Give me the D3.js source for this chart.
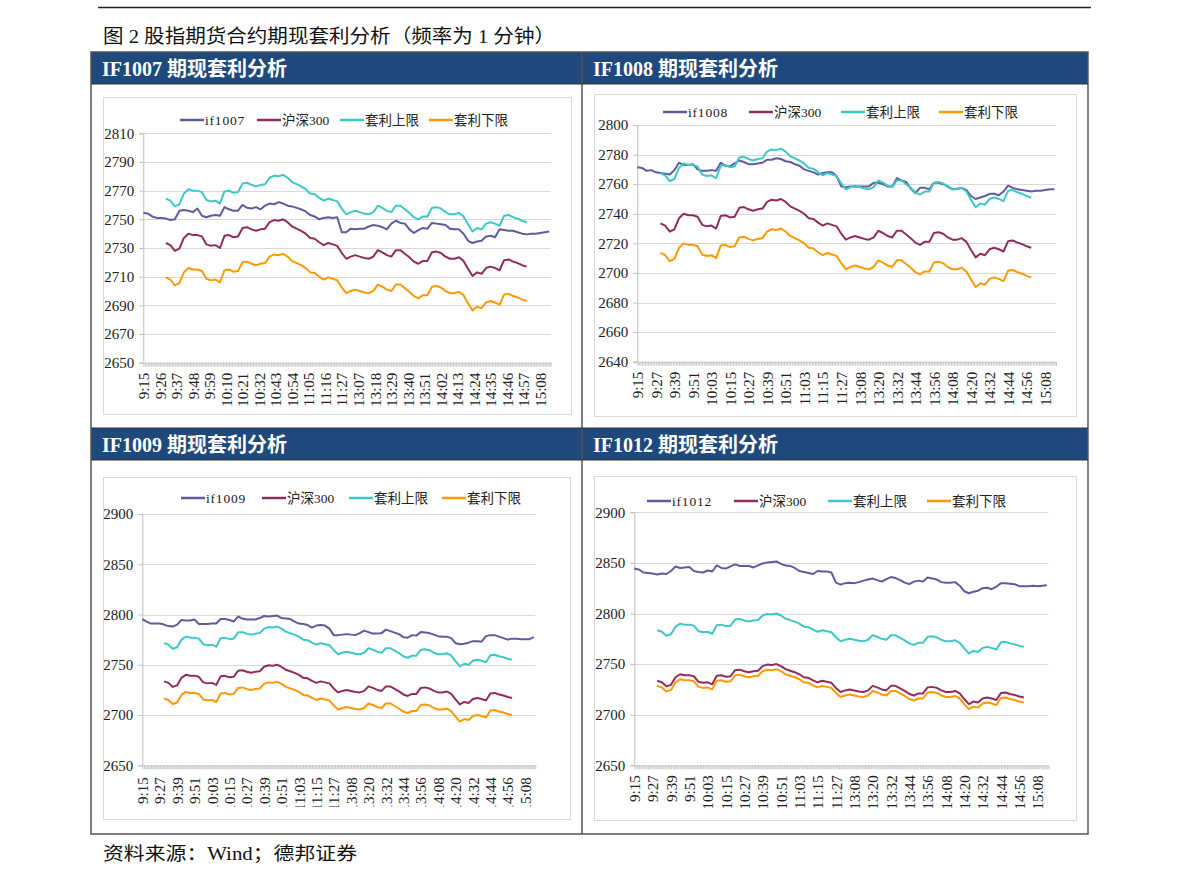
<!DOCTYPE html>
<html>
<head>
<meta charset="utf-8">
<script src="https://cdn.jsdelivr.net/npm/d3@7"></script>
<style>
  body { margin: 0; background: #fff; }
  text { font-family: "Liberation Serif", "Noto Sans CJK SC", serif; }
</style>
</head>
<body>
<svg id="chart" width="1191" height="884"></svg>
<script>
// minute categories: 9:15-11:30 and 13:00-15:15
function buildTimes() {
    let out = [];
    let add = function(h0, m0, h1, m1) {
        for (let t = h0 * 60 + m0; t <= h1 * 60 + m1; t++) {
            let m = t % 60;
            out.push(Math.floor(t / 60) + ":" + (m < 10 ? "0" + m : m));
        }
    };
    add(9, 15, 11, 30);
    add(13, 0, 15, 15);
    return out;
}
const times = buildTimes();

const ticks11 = ["9:15","9:26","9:37","9:48","9:59","10:10","10:21","10:32","10:43","10:54","11:05","11:16","11:27",
    "13:07","13:18","13:29","13:40","13:51","14:02","14:13","14:24","14:35","14:46","14:57","15:08"];
const ticks12 = ["9:15","9:27","9:39","9:51","10:03","10:15","10:27","10:39","10:51","11:03","11:15","11:27",
    "13:08","13:20","13:32","13:44","13:56","14:08","14:20","14:32","14:44","14:56","15:08"];

const legendNames = ["沪深300", "套利上限", "套利下限"];

// read every 3 minutes; futures from 9:15, spot and bounds from 9:30
const step = 3;
const futStart = 0;
const spotStart = 15;

const hs300 = [2733.5,2732,2728,2729.5,2737,2740,2739,2739,2738,2732.5,
    2731.5,2732,2730,2738.5,2739,2737.5,2738,2744,2744.5,2743,
    2742,2743,2743.5,2748,2749.5,2749,2750,2748,2745,2743.5,
    2742,2740,2737,2736.5,2734,2732,2733.5,2732.5,2731.5,2726.5,
    2722.5,2724,2725,2724,2723,2722.5,2724,2728.5,2727,2725,
    2724,2728.5,2728.5,2726,2723.5,2720.5,2719,2721,2721,2727,
    2727.5,2726.5,2724,2722.5,2722.5,2723.5,2721,2715.5,2710.5,2713,
    2712,2716,2717,2716,2714.5,2721.5,2722,2720.5,2719.5,2718,
    2717];

const if1007 = [2754.5,2754,2752,2751,2751,2750.5,2749.5,2750,2756,2756.5,
    2756,2755,2757.5,2752.5,2751.5,2752.5,2753,2752.5,2758.5,2757,
    2756,2756,2760,2758,2757.5,2758.5,2757,2759.5,2761,2760.5,
    2762,2761,2759.5,2759,2758,2757,2755.5,2753,2752,2750,
    2751,2751.5,2751,2751.5,2741,2741,2743.5,2743,2743.5,2743.5,
    2745,2746,2745.5,2744.5,2743,2747,2749,2747.5,2747,2743,
    2740.5,2742.5,2744,2743.5,2747.5,2747,2746.5,2746,2743.5,2743,
    2743,2740,2735,2733.5,2734.5,2735,2738,2738.5,2737.5,2743,
    2742.5,2742,2742,2741,2740,2739.5,2740,2740,2740.5,2741,
    2741.5];
const up1007 = [2764.5,2763,2759,2760.5,2768,2771,2770,2770,2769,2763.5,
    2762.5,2763,2761,2769.5,2770,2768.5,2769,2775,2775.5,2774,
    2773,2774,2774.5,2779,2780.5,2780,2781,2779,2776,2774.5,
    2773,2771,2768,2767.5,2765,2763,2764.5,2763.5,2762.5,2757.5,
    2753.5,2755,2756,2755,2754,2753.5,2755,2759.5,2758,2756,
    2755,2759.5,2759.5,2757,2754.5,2751.5,2750,2752,2752,2758,
    2758.5,2757.5,2755,2753.5,2753.5,2754.5,2752,2746.5,2741.5,2744,
    2743,2747,2748,2747,2745.5,2752.5,2753,2751.5,2750.5,2749,
    2748];
const low1007 = [2709.5,2708,2704,2705.5,2713,2716,2715,2715,2714,2708.5,
    2707.5,2708,2706,2714.5,2715,2713.5,2714,2720,2720.5,2719,
    2718,2719,2719.5,2724,2725.5,2725,2726,2724,2721,2719.5,
    2718,2716,2713,2712.5,2710,2708,2709.5,2708.5,2707.5,2702.5,
    2698.5,2700,2701,2700,2699,2698.5,2700,2704.5,2703,2701,
    2700,2704.5,2704.5,2702,2699.5,2696.5,2695,2697,2697,2703,
    2703.5,2702.5,2700,2698.5,2698.5,2699.5,2697,2691.5,2686.5,2689,
    2688,2692,2693,2692,2690.5,2697.5,2698,2696.5,2695.5,2694,
    2693];

const if1008 = [2771.5,2771,2769,2769.5,2768,2767.5,2767,2766.5,2769.5,2774.5,
    2773,2773,2773.5,2770,2769,2769,2769.5,2769,2774.5,2772.5,
    2772,2774,2776,2775,2773.5,2773.5,2774,2774.5,2776.5,2776.5,
    2777.5,2777,2775.5,2775,2773.5,2772.5,2770,2769,2768,2766.5,
    2767.5,2768,2768,2765.5,2758.5,2758,2758.5,2758.5,2758.5,2758.5,
    2758.5,2761,2761,2760,2758.5,2758.5,2764,2762.5,2761.5,2757,
    2754,2757.5,2757.5,2756.5,2761,2761,2760,2758.5,2756.5,2757,
    2757.5,2756,2752,2750,2751,2752,2753.5,2753.5,2752.5,2755,
    2759,2757.5,2756.5,2756,2755.5,2755,2755.5,2755.5,2756,2756.5,
    2756.5];
const up1008 = [2767.5,2766,2762,2763.5,2771,2774,2773,2773,2772,2766.5,
    2765.5,2766,2764,2772.5,2773,2771.5,2772,2778,2778.5,2777,
    2776,2777,2777.5,2782,2783.5,2783,2784,2782,2779,2777.5,
    2776,2774,2771,2770.5,2768,2766,2767.5,2766.5,2765.5,2760.5,
    2756.5,2758,2759,2758,2757,2756.5,2758,2762.5,2761,2759,
    2758,2762.5,2762.5,2760,2757.5,2754.5,2753,2755,2755,2761,
    2761.5,2760.5,2758,2756.5,2756.5,2757.5,2755,2749.5,2744.5,2747,
    2746,2750,2751,2750,2748.5,2755.5,2756,2754.5,2753.5,2752,
    2751];
const low1008 = [2713.5,2712,2708,2709.5,2717,2720,2719,2719,2718,2712.5,
    2711.5,2712,2710,2718.5,2719,2717.5,2718,2724,2724.5,2723,
    2722,2723,2723.5,2728,2729.5,2729,2730,2728,2725,2723.5,
    2722,2720,2717,2716.5,2714,2712,2713.5,2712.5,2711.5,2706.5,
    2702.5,2704,2705,2704,2703,2702.5,2704,2708.5,2707,2705,
    2704,2708.5,2708.5,2706,2703.5,2700.5,2699,2701,2701,2707,
    2707.5,2706.5,2704,2702.5,2702.5,2703.5,2701,2695.5,2690.5,2693,
    2692,2696,2697,2696,2694.5,2701.5,2702,2700.5,2699.5,2698,
    2697];

const if1009 = [2795.5,2793,2791,2791,2791,2790,2788.5,2788,2790,2794.5,
    2794,2794,2795,2790.5,2790.5,2790.5,2791,2791,2795.5,2795.5,
    2794.5,2793,2798,2796,2795,2795,2795,2796.5,2798.5,2798,
    2798.5,2799,2796.5,2796,2795.5,2793,2791,2790.5,2789.5,2787,
    2789,2789.5,2789,2786,2779.5,2779.5,2780,2780.5,2780,2779.5,
    2781.5,2784,2782.5,2781,2781,2781.5,2785,2783.5,2782,2780.5,
    2777.5,2777,2779.5,2779,2782.5,2782,2781.5,2780,2778.5,2778,
    2778,2776.5,2771.5,2770.5,2771,2772,2773.5,2773.5,2773,2778.5,
    2779.5,2779.5,2778,2776.5,2775,2776,2776,2775.5,2775.5,2775.5,
    2777.5];
const up1009 = [2771.5,2770,2766,2767.5,2775,2778,2777,2777,2776,2770.5,
    2769.5,2770,2768,2776.5,2777,2775.5,2776,2782,2782.5,2781,
    2780,2781,2781.5,2786,2787.5,2787,2788,2786,2783,2781.5,
    2780,2778,2775,2774.5,2772,2770,2771.5,2770.5,2769.5,2764.5,
    2760.5,2762,2763,2762,2761,2760.5,2762,2766.5,2765,2763,
    2762,2766.5,2766.5,2764,2761.5,2758.5,2757,2759,2759,2765,
    2765.5,2764.5,2762,2760.5,2760.5,2761.5,2759,2753.5,2748.5,2751,
    2750,2754,2755,2754,2752.5,2759.5,2760,2758.5,2757.5,2756,
    2755];
const low1009 = [2716.5,2715,2711,2712.5,2720,2723,2722,2722,2721,2715.5,
    2714.5,2715,2713,2721.5,2722,2720.5,2721,2727,2727.5,2726,
    2725,2726,2726.5,2731,2732.5,2732,2733,2731,2728,2726.5,
    2725,2723,2720,2719.5,2717,2715,2716.5,2715.5,2714.5,2709.5,
    2705.5,2707,2708,2707,2706,2705.5,2707,2711.5,2710,2708,
    2707,2711.5,2711.5,2709,2706.5,2703.5,2702,2704,2704,2710,
    2710.5,2709.5,2707,2705.5,2705.5,2706.5,2704,2698.5,2693.5,2696,
    2695,2699,2700,2699,2697.5,2704.5,2705,2703.5,2702.5,2701,
    2700];

const if1012 = [2844.5,2843.5,2840.5,2840,2839.5,2838.5,2839.5,2839,2842,2846.5,
    2845,2845.5,2846,2842,2841,2840.5,2842.5,2841.5,2847.5,2845,
    2844.5,2846.5,2848.5,2847,2847,2847,2845.5,2847.5,2849.5,2850.5,
    2851,2851.5,2849,2847.5,2847,2845,2842,2841,2840,2839,
    2842,2841.5,2841.5,2840.5,2830.5,2828.5,2830,2830.5,2830,2831,
    2832.5,2833.5,2834.5,2833,2831.5,2834,2836,2835,2833,2830.5,
    2829,2831.5,2832.5,2831.5,2835.5,2834.5,2833.5,2831,2830.5,2830.5,
    2831,2827.5,2822,2820,2821.5,2822.5,2825,2825.5,2824,2826.5,
    2830,2830,2829.5,2829,2827,2827,2827,2827.5,2827,2827.5,
    2828];
const up1012 = [2783.5,2782,2778,2779.5,2787,2790,2789,2789,2788,2782.5,
    2781.5,2782,2780,2788.5,2789,2787.5,2788,2794,2794.5,2793,
    2792,2793,2793.5,2798,2799.5,2799,2800,2798,2795,2793.5,
    2792,2790,2787,2786.5,2784,2782,2783.5,2782.5,2781.5,2776.5,
    2772.5,2774,2775,2774,2773,2772.5,2774,2778.5,2777,2775,
    2774,2778.5,2778.5,2776,2773.5,2770.5,2769,2771,2771,2777,
    2777.5,2776.5,2774,2772.5,2772.5,2773.5,2771,2765.5,2760.5,2763,
    2762,2766,2767,2766,2764.5,2771.5,2772,2770.5,2769.5,2768,
    2767];
const low1012 = [2728.5,2727,2723,2724.5,2732,2735,2734,2734,2733,2727.5,
    2726.5,2727,2725,2733.5,2734,2732.5,2733,2739,2739.5,2738,
    2737,2738,2738.5,2743,2744.5,2744,2745,2743,2740,2738.5,
    2737,2735,2732,2731.5,2729,2727,2728.5,2727.5,2726.5,2721.5,
    2717.5,2719,2720,2719,2718,2717.5,2719,2723.5,2722,2720,
    2719,2723.5,2723.5,2721,2718.5,2715.5,2714,2716,2716,2722,
    2722.5,2721.5,2719,2717.5,2717.5,2718.5,2716,2710.5,2705.5,2708,
    2707,2711,2712,2711,2709.5,2716.5,2717,2715.5,2714.5,2713,
    2712];

const colors = ["#5f5b9e", "#932c5e", "#3cc8c8", "#ff9900"];

let svg = d3.select("#chart");

// page frame
svg.append("line").attr("x1", 98).attr("x2", 1091).attr("y1", 7.5).attr("y2", 7.5)
    .attr("stroke", "#222").attr("stroke-width", 1.5);
svg.append("text").attr("x", 103).attr("y", 43).attr("font-size", 19).attr("fill", "#111")
    .attr("textLength", 452).attr("lengthAdjust", "spacingAndGlyphs")
    .text("图 2 股指期货合约期现套利分析（频率为 1 分钟）");
svg.append("text").attr("x", 103).attr("y", 860).attr("font-size", 18).attr("fill", "#111")
    .attr("textLength", 254).attr("lengthAdjust", "spacingAndGlyphs")
    .text("资料来源：Wind；德邦证券");

function toPoints(vals, start) {
    return vals.map((v, i) => ({ t: times[start + i * step], v: v }));
}

function drawPanel(cfg) {
    let g = svg.append("g");
    // header bar
    g.append("rect").attr("x", cfg.cell[0]).attr("y", cfg.headY)
        .attr("width", cfg.cell[1] - cfg.cell[0]).attr("height", 32).attr("fill", "#1f497d");
    g.append("text").attr("x", cfg.cell[0] + 11).attr("y", cfg.headY + 24)
        .attr("font-size", 20).attr("font-weight", "bold").attr("fill", "#fff")
        .text(cfg.title);

    // chart area box
    g.append("rect").attr("x", cfg.box[0] + 0.5).attr("y", cfg.box[1] + 0.5)
        .attr("width", cfg.box[2]).attr("height", cfg.box[3])
        .attr("fill", "#fff").attr("stroke", "#d9d9d9");

    let x = d3.scalePoint().domain(times).range([cfg.plot.l, cfg.plot.r]);
    let y = d3.scaleLinear().domain(cfg.yDomain).range([cfg.plot.b, cfg.plot.t]);
    let yVals = d3.range(cfg.yDomain[0], cfg.yDomain[1] + 1, cfg.yStep);

    // gridlines
    g.append("g").selectAll("line").data(yVals).join("line")
        .attr("x1", cfg.plot.l).attr("x2", cfg.plot.r)
        .attr("y1", d => Math.round(y(d)) + 0.5).attr("y2", d => Math.round(y(d)) + 0.5)
        .attr("stroke", "#d9d9d9");

    // y axis
    let ya = g.append("g").attr("transform", "translate(" + cfg.plot.l + ",0)")
        .call(d3.axisLeft(y).tickValues(yVals).tickSize(4).tickPadding(5).tickFormat(d3.format("d")));
    ya.select(".domain").attr("stroke", "#bfbfbf");
    ya.selectAll(".tick line").attr("stroke", "#bfbfbf");
    ya.selectAll("text").attr("font-size", 15).attr("fill", "#222")
        .style("font-family", '"Liberation Serif", serif');

    // x axis: one tick per minute, labels on a few
    let xa = g.append("g").attr("transform", "translate(0," + cfg.plot.b + ")")
        .call(d3.axisBottom(x).tickSizeInner(4).tickSizeOuter(0)
            .tickFormat(d => cfg.ticks.includes(d) ? d : ""));
    xa.select(".domain").attr("stroke", "#d9d9d9");
    xa.selectAll(".tick line").attr("stroke", "#c8c8c8");
    xa.selectAll("text").attr("font-size", 15).attr("fill", "#222")
        .style("font-family", '"Liberation Serif", serif')
        .attr("transform", "rotate(-90)")
        .attr("x", -cfg.labelGap).attr("y", 0).attr("dy", "0.35em")
        .style("text-anchor", "end");
    if (cfg.clipY) {
        let id = "clip" + cfg.name;
        svg.append("clipPath").attr("id", id).append("rect")
            .attr("x", 0).attr("y", -cfg.plot.b).attr("width", 1191).attr("height", cfg.clipY);
        xa.attr("clip-path", "url(#" + id + ")");
    }

    // series
    let line = d3.line().x(d => x(d.t)).y(d => y(d.v));
    let series = [
        toPoints(cfg.fut, futStart),
        toPoints(hs300, spotStart),
        toPoints(cfg.up, spotStart),
        toPoints(cfg.low, spotStart)
    ];
    g.append("g").selectAll("path").data(series).join("path")
        .attr("d", line).attr("fill", "none")
        .attr("stroke", (d, i) => colors[i])
        .attr("stroke-width", 2).attr("stroke-linejoin", "round");

    // legend
    let names = [cfg.name].concat(legendNames);
    names.forEach(function(n, i) {
        g.append("line").attr("x1", cfg.legX[i]).attr("x2", cfg.legX[i] + 24)
            .attr("y1", cfg.legY).attr("y2", cfg.legY)
            .attr("stroke", colors[i]).attr("stroke-width", 2.5);
        g.append("text").attr("x", cfg.legX[i] + 25).attr("y", cfg.legY + 5)
            .attr("font-size", 13.5).attr("fill", "#222")
            .attr("letter-spacing", i == 0 ? 0.8 : 0).text(n);
    });
}

let panels = [
    { name: "if1007", title: "IF1007 期现套利分析", fut: if1007, up: up1007, low: low1007,
      cell: [91, 582], headY: 52, box: [103, 97, 468, 317],
      plot: { l: 143.3, r: 550.7, t: 133.3, b: 362.7 }, yDomain: [2650, 2810], yStep: 20,
      ticks: ticks11, labelGap: 10, legX: [180, 257, 340, 429], legY: 120 },
    { name: "if1008", title: "IF1008 期现套利分析", fut: if1008, up: up1008, low: low1008,
      cell: [582, 1088], headY: 52, box: [594, 94, 482, 322],
      plot: { l: 637.3, r: 1056, t: 125, b: 361.7 }, yDomain: [2640, 2800], yStep: 20,
      ticks: ticks12, labelGap: 10, legX: [663, 749, 841, 939], legY: 112 },
    { name: "if1009", title: "IF1009 期现套利分析", fut: if1009, up: up1009, low: low1009,
      cell: [91, 582], headY: 428, box: [103, 477, 467, 342],
      plot: { l: 142.3, r: 535.3, t: 514, b: 765.3 }, yDomain: [2650, 2900], yStep: 50,
      ticks: ticks12, labelGap: 12, legX: [181, 262, 349, 442], legY: 498, clipY: 807 },
    { name: "if1012", title: "IF1012 期现套利分析", fut: if1012, up: up1012, low: low1012,
      cell: [582, 1088], headY: 428, box: [594, 476, 482, 344],
      plot: { l: 634.3, r: 1048.3, t: 512.3, b: 765.3 }, yDomain: [2650, 2900], yStep: 50,
      ticks: ticks12, labelGap: 10, legX: [647, 734, 828, 927], legY: 501 }
];

panels.forEach(drawPanel);

// table borders
let border = "#555";
svg.append("rect").attr("x", 91).attr("y", 52).attr("width", 997).attr("height", 782)
    .attr("fill", "none").attr("stroke", border).attr("stroke-width", 1.5);
svg.append("line").attr("x1", 582).attr("x2", 582).attr("y1", 52).attr("y2", 834)
    .attr("stroke", border).attr("stroke-width", 1.5);
[84, 428, 460].forEach(function(yy) {
    svg.append("line").attr("x1", 91).attr("x2", 1088).attr("y1", yy).attr("y2", yy)
        .attr("stroke", "#333").attr("stroke-width", 1.2);
});
</script>
</body>
</html>
